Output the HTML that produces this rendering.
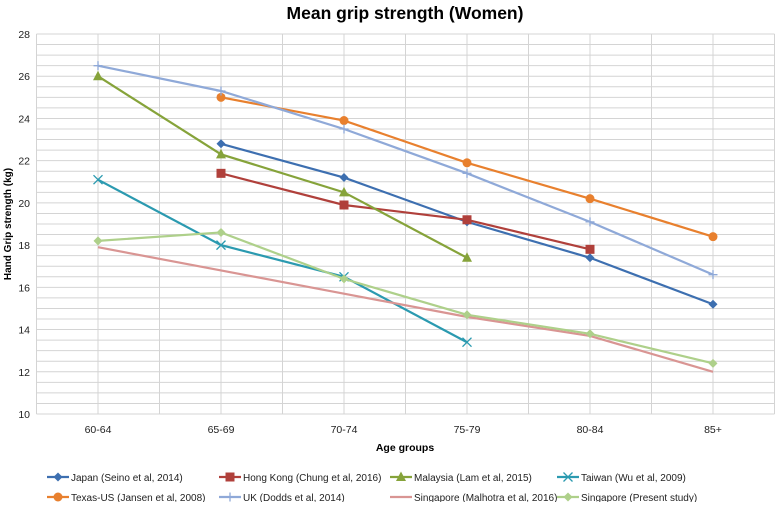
<!DOCTYPE html>
<html><head><meta charset="utf-8"><style>
body{margin:0;background:#fff;font-family:"Liberation Sans",Arial,sans-serif;}
svg text{font-family:"Liberation Sans",Arial,sans-serif;}
</style></head><body>
<svg id="chart" width="778" height="502">
<text x="405" y="19" text-anchor="middle" font-size="17.5" font-weight="bold" fill="#000">Mean grip strength (Women)</text>
<text transform="translate(11,224) rotate(-90)" text-anchor="middle" font-size="10" font-weight="bold">Hand Grip strength (kg)</text>
<text x="405" y="451" text-anchor="middle" font-size="10.5" font-weight="bold">Age groups</text>
<g id="grid"></g><g id="axes"></g><g id="series"></g><g id="legend"></g>
</svg>
<script>
const categories=["60-64","65-69","70-74","75-79","80-84","85+"];
const yTicks=[10,12,14,16,18,20,22,24,26,28];
const seriesNames=["Japan (Seino et al, 2014)","Hong Kong (Chung et al, 2016)","Malaysia  (Lam et al, 2015)","Taiwan (Wu et al, 2009)","Texas-US (Jansen et al, 2008)","UK (Dodds et al, 2014)","Singapore (Malhotra et al, 2016)","Singapore (Present study)"];
const japan=[null,22.8,21.2,19.1,17.4,15.2];
const hongKong=[null,21.4,19.9,19.2,17.8,null];
const malaysia=[26.0,22.3,20.5,17.4,null,null];
const taiwan=[21.1,18.0,16.5,13.4,null,null];
const texas=[null,25.0,23.9,21.9,20.2,18.4];
const uk=[26.5,25.3,23.5,21.4,19.1,16.6];
const sgMalhotra=[17.9,16.8,15.7,14.6,13.7,12.0];
const sgPresent=[18.2,18.6,16.4,14.7,13.8,12.4];
const allSeries=[japan,hongKong,malaysia,taiwan,texas,uk,sgMalhotra,sgPresent];
const colors=["#3d6fb0","#b0403b","#86a33a","#2b9ab0","#e8802e","#8fa9d8","#d99593","#aed08a"];
const markers=["diamond","square","triangle","x","circle","plus","none","diamond"];
const NS="http://www.w3.org/2000/svg";
const L=36.5,R=774.5,T=34,B=414,yMin=10,yMax=28;
const bw=(R-L)/categories.length;
const xS=i=>L+bw*(i+0.5);
const yS=v=>B-(v-yMin)/(yMax-yMin)*(B-T);
function mk(tag,attrs,parent){const e=document.createElementNS(NS,tag);for(const k in attrs)e.setAttribute(k,attrs[k]);parent.appendChild(e);return e;}
const grid=document.getElementById('grid'),axes=document.getElementById('axes'),ser=document.getElementById('series'),leg=document.getElementById('legend');
for(let v=yMin;v<=yMax+0.001;v+=0.5){const l=mk('line',{x1:L,x2:R,y1:yS(v),y2:yS(v),stroke:'#d4d4d4','stroke-width':1},grid);

}
for(let k=0;k<=categories.length*2;k++){const x=L+bw*k/2;const l=mk('line',{x1:x,x2:x,y1:T,y2:B,stroke:'#d4d4d4','stroke-width':1},grid);

}
yTicks.forEach(v=>{const t=mk('text',{x:30,y:yS(v)+4,'text-anchor':'end','font-size':'10.5',fill:'#222'},axes);t.textContent=v;

});
categories.forEach((c,i)=>{const t=mk('text',{x:xS(i),y:433,'text-anchor':'middle','font-size':'10.5',fill:'#222'},axes);t.textContent=c;

});
function marker(type,x,y,color,g){
 let e=null;
 if(type==='diamond')e=mk('polygon',{points:`${x},${y-4.5} ${x+4.5},${y} ${x},${y+4.5} ${x-4.5},${y}`,fill:color},g);
 else if(type==='square')e=mk('rect',{x:x-4.5,y:y-4.5,width:9,height:9,fill:color},g);
 else if(type==='triangle')e=mk('polygon',{points:`${x},${y-5.5} ${x+5},${y+4} ${x-5},${y+4}`,fill:color},g);
 else if(type==='circle')e=mk('circle',{cx:x,cy:y,r:4.5,fill:color},g);
 else if(type==='x'){e=mk('path',{d:`M${x-4.5},${y-4.5}L${x+4.5},${y+4.5}M${x-4.5},${y+4.5}L${x+4.5},${y-4.5}`,stroke:color,'stroke-width':1.3},g);}
 else if(type==='plus'){e=mk('path',{d:`M${x-4.5},${y}L${x+4.5},${y}M${x},${y-4.5}L${x},${y+4.5}`,stroke:color,'stroke-width':1.3},g);}
 if(e){
 }
}
allSeries.forEach((s,si)=>{
 const g=mk('g',{},ser);
 
 
 const pts=[];s.forEach((v,i)=>{if(v!==null)pts.push([xS(i),yS(v)]);});
 const p=mk('polyline',{points:pts.map(p=>p.join(',')).join(' '),fill:'none',stroke:colors[si],'stroke-width':2.2},g);
 
 
 pts.forEach(q=>marker(markers[si],q[0],q[1],colors[si],g));
});
const legX=[47,219,390,557],legY=[477,497];
seriesNames.forEach((n,i)=>{
 const x=legX[i%4],y=legY[Math.floor(i/4)];
 const g=mk('g',{},leg);
 
 
 mk('line',{x1:x,x2:x+22,y1:y,y2:y,stroke:colors[i],'stroke-width':2.2},g);
 marker(markers[i],x+11,y,colors[i],g);
 const t=mk('text',{x:x+24,y:y+4,'font-size':'10',fill:'#222'},g);t.textContent=n;
});
</script>
</body></html>
